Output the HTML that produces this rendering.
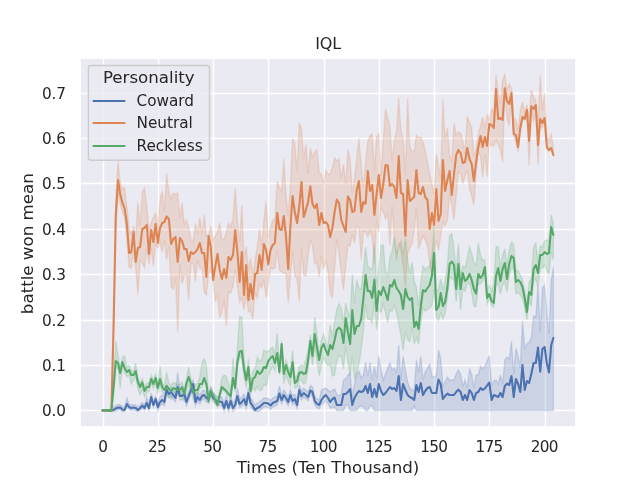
<!DOCTYPE html>
<html><head><meta charset="utf-8"><title>IQL</title>
<style>
html,body{margin:0;padding:0;background:#fff;}
body{width:640px;height:480px;overflow:hidden;}
svg{display:block;}
text{font-family:"DejaVu Sans","Liberation Sans",sans-serif;fill:#262626;}
.t11{font-size:15.28px;}
.tk{letter-spacing:-0.7px;}
.t12{font-size:16.67px;}
</style></head><body>
<svg width="640" height="480" viewBox="0 0 640 480">
<rect x="0" y="0" width="640" height="480" fill="#ffffff"/>
<rect x="80" y="57.6" width="496" height="369.59999999999997" fill="#eaeaf2"/>
<defs><clipPath id="ax"><rect x="80" y="57.6" width="496" height="369.6"/></clipPath></defs>
<g stroke="#ffffff" stroke-width="1.39" fill="none">
<line x1="103.50" y1="57.6" x2="103.50" y2="427.2"/>
<line x1="158.50" y1="57.6" x2="158.50" y2="427.2"/>
<line x1="213.50" y1="57.6" x2="213.50" y2="427.2"/>
<line x1="268.50" y1="57.6" x2="268.50" y2="427.2"/>
<line x1="324.50" y1="57.6" x2="324.50" y2="427.2"/>
<line x1="379.50" y1="57.6" x2="379.50" y2="427.2"/>
<line x1="434.50" y1="57.6" x2="434.50" y2="427.2"/>
<line x1="489.50" y1="57.6" x2="489.50" y2="427.2"/>
<line x1="545.50" y1="57.6" x2="545.50" y2="427.2"/>
<line x1="80" y1="410.50" x2="576" y2="410.50"/>
<line x1="80" y1="365.50" x2="576" y2="365.50"/>
<line x1="80" y1="320.50" x2="576" y2="320.50"/>
<line x1="80" y1="274.50" x2="576" y2="274.50"/>
<line x1="80" y1="229.50" x2="576" y2="229.50"/>
<line x1="80" y1="183.50" x2="576" y2="183.50"/>
<line x1="80" y1="138.50" x2="576" y2="138.50"/>
<line x1="80" y1="93.50" x2="576" y2="93.50"/>
</g>
<g clip-path="url(#ax)">
<path d="M102.5,410.4 L104.8,410.4 L107.0,410.4 L109.2,410.4 L111.4,410.4 L113.6,407.0 L115.8,405.4 L118.0,404.6 L120.2,404.6 L122.4,406.6 L124.6,407.0 L126.9,398.0 L129.1,404.0 L131.3,405.0 L133.5,404.6 L135.7,405.0 L137.9,407.0 L140.1,405.0 L142.3,402.6 L144.5,405.0 L146.8,397.0 L149.0,405.0 L151.2,393.0 L153.4,402.0 L155.6,396.0 L157.8,402.0 L160.0,397.0 L162.2,395.0 L164.4,397.0 L166.6,385.0 L168.9,389.0 L171.1,387.0 L173.3,390.0 L175.5,393.0 L177.7,372.0 L179.9,391.0 L182.1,391.0 L184.3,389.0 L186.5,397.0 L188.7,391.0 L191.0,385.0 L193.2,380.0 L195.4,397.0 L197.6,392.0 L199.8,395.0 L202.0,391.0 L204.2,390.0 L206.4,393.0 L208.6,394.0 L210.8,387.0 L213.1,393.0 L215.3,395.0 L217.5,397.0 L219.7,396.6 L221.9,397.0 L224.1,403.0 L226.3,396.0 L228.5,403.0 L230.7,396.0 L233.0,403.0 L235.2,400.0 L237.4,388.0 L239.6,399.0 L241.8,397.0 L244.0,394.0 L246.2,400.0 L248.4,387.0 L250.6,398.0 L252.8,401.0 L255.1,405.0 L257.3,403.0 L259.5,402.0 L261.7,400.0 L263.9,398.0 L266.1,398.0 L268.3,398.6 L270.5,400.6 L272.7,398.0 L274.9,397.0 L277.2,396.0 L279.4,386.0 L281.6,395.0 L283.8,390.0 L286.0,393.0 L288.2,397.0 L290.4,390.0 L292.6,396.0 L294.8,394.0 L297.1,400.0 L299.3,385.0 L301.5,391.0 L303.7,388.0 L305.9,390.0 L308.1,392.0 L310.3,385.6 L312.5,387.0 L314.7,396.0 L316.9,398.6 L319.2,400.0 L321.4,390.0 L323.6,389.0 L325.8,388.0 L328.0,390.0 L330.2,392.0 L332.4,390.0 L334.6,389.0 L336.8,394.0 L339.0,396.0 L341.3,394.0 L343.5,380.0 L345.7,379.0 L347.9,375.0 L350.1,373.0 L352.3,396.0 L354.5,384.0 L356.7,374.0 L358.9,371.0 L361.2,378.0 L363.4,375.0 L365.6,362.0 L367.8,376.0 L370.0,362.0 L372.2,380.0 L374.4,366.0 L376.6,378.0 L378.8,356.0 L381.0,370.0 L383.3,380.0 L385.5,374.0 L387.7,368.0 L389.9,363.0 L392.1,370.0 L394.3,368.0 L396.5,372.0 L398.7,345.0 L400.9,380.0 L403.1,356.0 L405.4,370.0 L407.6,382.0 L409.8,388.0 L412.0,390.0 L414.2,390.0 L416.4,360.0 L418.6,372.0 L420.8,356.0 L423.0,380.0 L425.2,372.0 L427.5,368.0 L429.7,364.0 L431.9,376.0 L434.1,377.0 L436.3,376.0 L438.5,350.0 L440.7,358.0 L442.9,386.0 L445.1,382.0 L447.4,377.0 L449.6,380.0 L451.8,380.0 L454.0,380.0 L456.2,374.0 L458.4,370.0 L460.6,374.0 L462.8,386.0 L465.0,380.0 L467.2,388.0 L469.5,369.0 L471.7,374.0 L473.9,388.0 L476.1,375.0 L478.3,375.0 L480.5,366.0 L482.7,369.0 L484.9,366.0 L487.1,361.0 L489.3,355.6 L491.6,386.0 L493.8,381.0 L496.0,380.0 L498.2,384.0 L500.4,375.0 L502.6,384.0 L504.8,360.0 L507.0,357.0 L509.2,359.0 L511.5,341.0 L513.7,374.0 L515.9,348.0 L518.1,356.0 L520.3,368.0 L522.5,321.0 L524.7,348.0 L526.9,344.0 L529.1,342.0 L531.3,338.0 L533.6,316.0 L535.8,317.0 L538.0,285.0 L540.2,332.0 L542.4,288.0 L544.6,285.0 L546.8,312.0 L549.0,334.0 L551.2,280.0 L553.4,267.0 L553.4,410.5 L551.2,410.5 L549.0,410.5 L546.8,410.5 L544.6,410.5 L542.4,410.5 L540.2,410.5 L538.0,410.5 L535.8,410.5 L533.6,410.5 L531.3,410.5 L529.1,410.5 L526.9,410.5 L524.7,410.5 L522.5,410.5 L520.3,410.5 L518.1,410.5 L515.9,410.5 L513.7,410.5 L511.5,410.5 L509.2,410.5 L507.0,410.5 L504.8,410.5 L502.6,410.5 L500.4,410.5 L498.2,410.5 L496.0,410.5 L493.8,410.5 L491.6,410.5 L489.3,410.5 L487.1,410.5 L484.9,410.5 L482.7,410.5 L480.5,410.5 L478.3,410.5 L476.1,410.5 L473.9,410.5 L471.7,410.5 L469.5,410.5 L467.2,410.5 L465.0,410.5 L462.8,410.5 L460.6,410.5 L458.4,410.5 L456.2,410.5 L454.0,410.5 L451.8,410.5 L449.6,410.5 L447.4,410.5 L445.1,410.5 L442.9,410.5 L440.7,410.5 L438.5,410.5 L436.3,410.5 L434.1,410.5 L431.9,410.5 L429.7,410.5 L427.5,410.5 L425.2,410.5 L423.0,410.5 L420.8,410.5 L418.6,410.5 L416.4,410.5 L414.2,406.0 L412.0,410.5 L409.8,410.5 L407.6,410.5 L405.4,410.5 L403.1,410.5 L400.9,410.5 L398.7,410.5 L396.5,410.5 L394.3,410.5 L392.1,410.5 L389.9,410.5 L387.7,410.5 L385.5,410.5 L383.3,410.5 L381.0,410.5 L378.8,410.5 L376.6,410.5 L374.4,410.5 L372.2,406.0 L370.0,406.0 L367.8,410.5 L365.6,410.5 L363.4,407.0 L361.2,406.0 L358.9,407.0 L356.7,410.5 L354.5,410.5 L352.3,410.5 L350.1,410.5 L347.9,405.0 L345.7,405.0 L343.5,410.5 L341.3,410.5 L339.0,410.5 L336.8,410.5 L334.6,407.0 L332.4,408.0 L330.2,408.0 L328.0,404.0 L325.8,401.0 L323.6,403.0 L321.4,404.0 L319.2,409.0 L316.9,407.6 L314.7,405.0 L312.5,396.0 L310.3,394.6 L308.1,401.0 L305.9,399.0 L303.7,397.0 L301.5,400.0 L299.3,394.0 L297.1,409.0 L294.8,403.0 L292.6,405.0 L290.4,399.0 L288.2,406.0 L286.0,402.0 L283.8,399.0 L281.6,404.0 L279.4,397.6 L277.2,405.0 L274.9,406.0 L272.7,407.0 L270.5,409.6 L268.3,407.6 L266.1,407.0 L263.9,407.0 L261.7,409.0 L259.5,411.0 L257.3,411.5 L255.1,411.5 L252.8,410.0 L250.6,407.0 L248.4,397.0 L246.2,409.0 L244.0,403.0 L241.8,406.0 L239.6,408.0 L237.4,400.0 L235.2,409.0 L233.0,411.5 L230.7,405.0 L228.5,411.5 L226.3,405.0 L224.1,411.5 L221.9,406.0 L219.7,405.6 L217.5,406.0 L215.3,404.0 L213.1,402.0 L210.8,396.0 L208.6,403.0 L206.4,402.0 L204.2,399.0 L202.0,400.0 L199.8,404.0 L197.6,401.0 L195.4,406.0 L193.2,388.0 L191.0,394.0 L188.7,400.0 L186.5,406.0 L184.3,398.0 L182.1,400.0 L179.9,400.0 L177.7,391.0 L175.5,402.0 L173.3,399.0 L171.1,396.0 L168.9,398.0 L166.6,394.0 L164.4,406.0 L162.2,404.0 L160.0,406.0 L157.8,411.0 L155.6,401.5 L153.4,407.5 L151.2,399.5 L149.0,410.5 L146.8,405.5 L144.5,410.5 L142.3,408.1 L140.1,410.5 L137.9,411.5 L135.7,410.5 L133.5,410.1 L131.3,410.5 L129.1,409.5 L126.9,406.5 L124.6,411.5 L122.4,411.5 L120.2,410.1 L118.0,410.1 L115.8,410.9 L113.6,411.5 L111.4,410.5 L109.2,410.5 L107.0,410.5 L104.8,410.5 L102.5,410.5Z" fill="#4c72b0" fill-opacity="0.2" stroke="#4c72b0" stroke-opacity="0.2" stroke-width="1.39" stroke-linejoin="miter"/>
<path d="M102.5,410.5 L104.8,410.5 L107.0,410.5 L109.2,410.5 L111.4,410.5 L113.6,318.0 L115.8,200.0 L118.0,161.0 L120.2,182.0 L122.4,189.0 L124.6,187.6 L126.9,206.0 L129.1,228.0 L131.3,234.0 L133.5,226.0 L135.7,236.0 L137.9,202.0 L140.1,226.0 L142.3,192.0 L144.5,188.0 L146.8,206.0 L149.0,232.0 L151.2,222.0 L153.4,218.0 L155.6,213.0 L157.8,228.0 L160.0,200.0 L162.2,191.0 L164.4,212.0 L166.6,173.0 L168.9,192.0 L171.1,199.0 L173.3,193.0 L175.5,194.0 L177.7,193.0 L179.9,218.0 L182.1,202.0 L184.3,224.0 L186.5,220.0 L188.7,228.0 L191.0,240.0 L193.2,242.0 L195.4,224.0 L197.6,234.0 L199.8,217.0 L202.0,234.0 L204.2,215.0 L206.4,236.0 L208.6,234.5 L210.8,226.0 L213.1,240.0 L215.3,236.0 L217.5,232.0 L219.7,223.0 L221.9,240.0 L224.1,239.0 L226.3,232.0 L228.5,223.0 L230.7,227.0 L233.0,218.0 L235.2,188.0 L237.4,220.0 L239.6,242.0 L241.8,205.0 L244.0,260.0 L246.2,246.0 L248.4,270.0 L250.6,258.0 L252.8,276.0 L255.1,260.0 L257.3,246.0 L259.5,229.0 L261.7,246.0 L263.9,220.0 L266.1,201.0 L268.3,238.0 L270.5,228.0 L272.7,220.0 L274.9,219.0 L277.2,181.0 L279.4,188.0 L281.6,191.0 L283.8,159.0 L286.0,194.0 L288.2,216.0 L290.4,186.0 L292.6,139.0 L294.8,143.0 L297.1,172.0 L299.3,123.0 L301.5,129.0 L303.7,159.0 L305.9,144.0 L308.1,174.0 L310.3,148.0 L312.5,157.0 L314.7,152.0 L316.9,149.6 L319.2,173.0 L321.4,174.0 L323.6,183.0 L325.8,170.0 L328.0,174.0 L330.2,174.0 L332.4,167.0 L334.6,158.0 L336.8,161.0 L339.0,159.0 L341.3,178.0 L343.5,164.0 L345.7,184.0 L347.9,150.0 L350.1,158.0 L352.3,193.0 L354.5,178.0 L356.7,158.0 L358.9,138.0 L361.2,166.0 L363.4,188.0 L365.6,162.0 L367.8,141.0 L370.0,136.0 L372.2,134.0 L374.4,171.0 L376.6,137.0 L378.8,134.0 L381.0,176.0 L383.3,140.0 L385.5,109.0 L387.7,118.0 L389.9,126.0 L392.1,161.0 L394.3,140.0 L396.5,132.0 L398.7,98.0 L400.9,130.0 L403.1,138.0 L405.4,175.0 L407.6,98.0 L409.8,146.0 L412.0,152.0 L414.2,151.0 L416.4,135.0 L418.6,138.0 L420.8,137.0 L423.0,142.0 L425.2,150.0 L427.5,162.0 L429.7,174.0 L431.9,184.0 L434.1,194.0 L436.3,154.0 L438.5,166.0 L440.7,178.0 L442.9,99.0 L445.1,140.0 L447.4,128.0 L449.6,156.0 L451.8,160.0 L454.0,123.0 L456.2,135.0 L458.4,132.0 L460.6,133.0 L462.8,140.0 L465.0,154.0 L467.2,116.0 L469.5,122.0 L471.7,128.0 L473.9,156.0 L476.1,150.0 L478.3,134.0 L480.5,126.0 L482.7,117.0 L484.9,128.0 L487.1,115.0 L489.3,120.0 L491.6,108.0 L493.8,116.0 L496.0,74.4 L498.2,92.0 L500.4,103.0 L502.6,80.0 L504.8,74.4 L507.0,90.0 L509.2,84.0 L511.5,88.0 L513.7,118.0 L515.9,120.0 L518.1,130.0 L520.3,110.0 L522.5,102.0 L524.7,112.0 L526.9,105.0 L529.1,118.0 L531.3,90.0 L533.6,97.0 L535.8,100.0 L538.0,124.0 L540.2,75.0 L542.4,110.0 L544.6,93.0 L546.8,136.0 L549.0,140.0 L551.2,134.0 L553.4,148.0 L553.4,156.5 L551.2,149.5 L549.0,151.5 L546.8,150.0 L544.6,120.0 L542.4,128.0 L540.2,126.0 L538.0,165.0 L535.8,108.0 L533.6,122.0 L531.3,108.0 L529.1,166.0 L526.9,112.0 L524.7,120.5 L522.5,118.5 L520.3,132.0 L518.1,152.0 L515.9,142.0 L513.7,136.0 L511.5,96.0 L509.2,126.0 L507.0,118.0 L504.8,92.0 L502.6,162.0 L500.4,150.0 L498.2,145.0 L496.0,140.0 L493.8,146.0 L491.6,146.0 L489.3,144.0 L487.1,177.0 L484.9,154.0 L482.7,177.0 L480.5,156.0 L478.3,152.0 L476.1,174.0 L473.9,205.0 L471.7,196.0 L469.5,188.0 L467.2,170.0 L465.0,176.0 L462.8,184.0 L460.6,174.0 L458.4,172.0 L456.2,196.0 L454.0,220.0 L451.8,206.0 L449.6,194.0 L447.4,220.0 L445.1,226.0 L442.9,222.0 L440.7,236.0 L438.5,250.0 L436.3,240.0 L434.1,250.0 L431.9,276.0 L429.7,264.0 L427.5,246.0 L425.2,240.0 L423.0,236.0 L420.8,242.0 L418.6,249.0 L416.4,208.0 L414.2,230.0 L412.0,244.0 L409.8,248.0 L407.6,254.0 L405.4,288.0 L403.1,265.0 L400.9,251.0 L398.7,242.0 L396.5,261.0 L394.3,238.0 L392.1,206.0 L389.9,246.0 L387.7,213.0 L385.5,219.0 L383.3,212.0 L381.0,208.0 L378.8,232.0 L376.6,220.0 L374.4,264.0 L372.2,237.0 L370.0,230.0 L367.8,237.0 L365.6,232.0 L363.4,232.0 L361.2,260.0 L358.9,228.0 L356.7,226.0 L354.5,243.5 L352.3,234.0 L350.1,246.0 L347.9,245.0 L345.7,266.0 L343.5,290.0 L341.3,273.0 L339.0,254.0 L336.8,239.0 L334.6,269.0 L332.4,298.0 L330.2,293.0 L328.0,272.0 L325.8,260.0 L323.6,269.0 L321.4,256.0 L319.2,277.0 L316.9,262.0 L314.7,264.0 L312.5,246.0 L310.3,240.0 L308.1,256.0 L305.9,276.0 L303.7,275.0 L301.5,248.0 L299.3,302.0 L297.1,279.0 L294.8,276.0 L292.6,252.0 L290.4,276.0 L288.2,303.0 L286.0,274.0 L283.8,273.0 L281.6,272.0 L279.4,270.0 L277.2,250.0 L274.9,268.0 L272.7,269.0 L270.5,268.0 L268.3,284.0 L266.1,298.0 L263.9,280.0 L261.7,288.0 L259.5,284.0 L257.3,298.0 L255.1,292.0 L252.8,319.0 L250.6,310.0 L248.4,312.0 L246.2,294.0 L244.0,310.0 L241.8,298.0 L239.6,302.0 L237.4,286.0 L235.2,270.0 L233.0,286.0 L230.7,293.0 L228.5,292.0 L226.3,326.0 L224.1,300.0 L221.9,312.0 L219.7,318.0 L217.5,296.0 L215.3,301.0 L213.1,282.0 L210.8,268.0 L208.6,274.0 L206.4,295.0 L204.2,292.0 L202.0,268.0 L199.8,268.0 L197.6,260.0 L195.4,282.0 L193.2,264.0 L191.0,263.0 L188.7,300.0 L186.5,274.0 L184.3,275.0 L182.1,284.0 L179.9,264.0 L177.7,332.0 L175.5,278.0 L173.3,289.0 L171.1,287.0 L168.9,246.0 L166.6,260.0 L164.4,240.0 L162.2,252.0 L160.0,242.0 L157.8,248.0 L155.6,244.0 L153.4,266.0 L151.2,248.0 L149.0,264.0 L146.8,248.0 L144.5,268.0 L142.3,263.0 L140.1,260.0 L137.9,295.0 L135.7,268.0 L133.5,252.0 L131.3,268.0 L129.1,267.0 L126.9,240.0 L124.6,218.0 L122.4,212.0 L120.2,204.0 L118.0,192.0 L115.8,232.0 L113.6,335.0 L111.4,410.5 L109.2,410.5 L107.0,410.5 L104.8,410.5 L102.5,410.5Z" fill="#dd8452" fill-opacity="0.2" stroke="#dd8452" stroke-opacity="0.2" stroke-width="1.39" stroke-linejoin="miter"/>
<path d="M102.5,410.4 L104.8,410.4 L107.0,410.4 L109.2,410.4 L111.4,410.4 L113.6,379.0 L115.8,341.0 L118.0,355.0 L120.2,369.0 L122.4,357.0 L124.6,356.0 L126.9,367.0 L129.1,365.3 L131.3,370.7 L133.5,371.0 L135.7,363.0 L137.9,378.0 L140.1,383.0 L142.3,378.4 L144.5,387.0 L146.8,383.0 L149.0,383.0 L151.2,375.0 L153.4,380.0 L155.6,374.0 L157.8,384.0 L160.0,366.0 L162.2,382.0 L164.4,386.0 L166.6,372.0 L168.9,383.0 L171.1,385.1 L173.3,382.2 L175.5,383.4 L177.7,384.5 L179.9,384.6 L182.1,381.8 L184.3,388.9 L186.5,378.0 L188.7,367.0 L191.0,379.0 L193.2,387.5 L195.4,384.0 L197.6,383.5 L199.8,377.0 L202.0,362.0 L204.2,358.5 L206.4,365.0 L208.6,393.0 L210.8,387.0 L213.1,391.8 L215.3,395.5 L217.5,400.2 L219.7,390.0 L221.9,378.0 L224.1,375.0 L226.3,376.0 L228.5,383.0 L230.7,391.0 L233.0,358.0 L235.2,380.0 L237.4,348.0 L239.6,316.6 L241.8,317.0 L244.0,357.0 L246.2,375.0 L248.4,359.0 L250.6,383.0 L252.8,371.0 L255.1,369.0 L257.3,357.0 L259.5,361.0 L261.7,360.0 L263.9,350.0 L266.1,352.0 L268.3,351.0 L270.5,348.7 L272.7,347.3 L274.9,355.0 L277.2,333.0 L279.4,367.0 L281.6,341.0 L283.8,369.0 L286.0,359.7 L288.2,366.3 L290.4,371.0 L292.6,350.0 L294.8,378.0 L297.1,375.2 L299.3,366.5 L301.5,364.8 L303.7,366.0 L305.9,360.0 L308.1,350.0 L310.3,335.0 L312.5,348.0 L314.7,317.0 L316.9,333.0 L319.2,354.0 L321.4,340.0 L323.6,334.0 L325.8,341.0 L328.0,347.0 L330.2,325.0 L332.4,337.0 L334.6,322.0 L336.8,309.0 L339.0,303.6 L341.3,308.0 L343.5,323.0 L345.7,303.0 L347.9,312.0 L350.1,316.0 L352.3,274.0 L354.5,304.0 L356.7,280.0 L358.9,288.0 L361.2,289.0 L363.4,269.0 L365.6,247.0 L367.8,266.0 L370.0,269.0 L372.2,269.0 L374.4,243.6 L376.6,284.0 L378.8,269.0 L381.0,245.0 L383.3,245.0 L385.5,271.0 L387.7,276.0 L389.9,257.0 L392.1,250.9 L394.3,237.0 L396.5,254.0 L398.7,247.0 L400.9,241.0 L403.1,254.0 L405.4,238.0 L407.6,258.5 L409.8,274.0 L412.0,262.0 L414.2,281.0 L416.4,287.1 L418.6,306.0 L420.8,282.5 L423.0,266.0 L425.2,269.3 L427.5,267.3 L429.7,266.0 L431.9,257.0 L434.1,226.0 L436.3,290.0 L438.5,290.0 L440.7,279.0 L442.9,289.0 L445.1,282.0 L447.4,264.0 L449.6,236.0 L451.8,233.6 L454.0,249.0 L456.2,271.0 L458.4,244.0 L460.6,275.5 L462.8,266.0 L465.0,267.3 L467.2,258.7 L469.5,247.0 L471.7,253.5 L473.9,263.0 L476.1,265.1 L478.3,243.0 L480.5,255.0 L482.7,260.0 L484.9,260.0 L487.1,290.0 L489.3,285.0 L491.6,291.0 L493.8,283.5 L496.0,247.0 L498.2,246.5 L500.4,267.0 L502.6,255.0 L504.8,249.0 L507.0,265.0 L509.2,250.0 L511.5,242.0 L513.7,244.0 L515.9,270.3 L518.1,270.7 L520.3,275.0 L522.5,279.7 L524.7,290.3 L526.9,304.0 L529.1,282.0 L531.3,279.0 L533.6,247.0 L535.8,243.0 L538.0,263.0 L540.2,246.0 L542.4,247.0 L544.6,241.0 L546.8,240.0 L549.0,240.0 L551.2,215.0 L553.4,223.0 L553.4,260.0 L551.2,252.0 L549.0,274.0 L546.8,271.0 L544.6,265.0 L542.4,268.2 L540.2,268.5 L538.0,286.8 L535.8,279.0 L533.6,281.5 L531.3,306.0 L529.1,301.5 L526.9,320.0 L524.7,307.7 L522.5,298.3 L520.3,295.0 L518.1,292.3 L515.9,293.7 L513.7,269.0 L511.5,267.7 L509.2,276.3 L507.0,292.0 L504.8,282.0 L502.6,285.0 L500.4,294.0 L498.2,284.0 L496.0,286.0 L493.8,307.0 L491.6,305.7 L489.3,299.3 L487.1,304.0 L484.9,273.0 L482.7,281.0 L480.5,284.0 L478.3,283.7 L476.1,306.9 L473.9,306.0 L471.7,293.0 L469.5,283.0 L467.2,284.0 L465.0,291.3 L462.8,288.7 L460.6,310.0 L458.4,281.0 L456.2,302.0 L454.0,280.0 L451.8,278.6 L449.6,277.5 L447.4,298.0 L445.1,313.5 L442.9,319.0 L440.7,313.0 L438.5,320.5 L436.3,317.0 L434.1,289.0 L431.9,305.5 L429.7,308.0 L427.5,309.3 L425.2,311.3 L423.0,308.0 L420.8,322.5 L418.6,344.0 L416.4,337.6 L414.2,344.0 L412.0,327.5 L409.8,342.0 L407.6,339.5 L405.4,332.0 L403.1,350.5 L400.9,335.0 L398.7,323.5 L396.5,313.0 L394.3,305.0 L392.1,311.4 L389.9,310.0 L387.7,322.3 L385.5,312.7 L383.3,304.0 L381.0,312.7 L378.8,309.3 L376.6,330.0 L374.4,301.6 L372.2,323.0 L370.0,319.0 L367.8,319.5 L365.6,304.0 L363.4,330.0 L361.2,350.0 L358.9,364.5 L356.7,372.0 L354.5,380.0 L352.3,356.0 L350.1,376.0 L347.9,362.0 L345.7,346.0 L343.5,369.0 L341.3,357.0 L339.0,355.6 L336.8,361.5 L334.6,375.0 L332.4,376.0 L330.2,364.0 L328.0,366.0 L325.8,362.5 L323.6,358.0 L321.4,365.0 L319.2,376.0 L316.9,361.0 L314.7,346.0 L312.5,366.0 L310.3,349.0 L308.1,368.7 L305.9,382.3 L303.7,384.0 L301.5,380.8 L299.3,380.5 L297.1,387.2 L294.8,388.0 L292.6,369.0 L290.4,386.0 L288.2,381.3 L286.0,374.7 L283.8,384.0 L281.6,350.5 L279.4,375.0 L277.2,358.3 L274.9,370.7 L272.7,366.0 L270.5,370.7 L268.3,376.3 L266.1,386.0 L263.9,385.0 L261.7,390.0 L259.5,390.7 L257.3,386.3 L255.1,391.0 L252.8,387.5 L250.6,394.0 L248.4,372.5 L246.2,388.0 L244.0,376.2 L241.8,357.4 L239.6,357.2 L237.4,366.8 L235.2,392.0 L233.0,381.5 L230.7,399.0 L228.5,396.8 L226.3,393.7 L224.1,391.5 L221.9,389.3 L219.7,397.2 L217.5,407.0 L215.3,402.2 L213.1,398.5 L210.8,393.8 L208.6,404.0 L206.4,387.2 L204.2,381.5 L202.0,387.8 L199.8,388.0 L197.6,395.0 L195.4,396.0 L193.2,400.0 L191.0,391.2 L188.7,384.5 L186.5,390.8 L184.3,402.0 L182.1,394.0 L179.9,396.0 L177.7,395.0 L175.5,395.3 L173.3,395.7 L171.1,400.0 L168.9,396.7 L166.6,392.3 L164.4,395.0 L162.2,392.3 L160.0,384.7 L157.8,394.0 L155.6,383.3 L153.4,388.7 L151.2,383.0 L149.0,391.7 L146.8,392.3 L144.5,397.0 L142.3,389.4 L140.1,395.0 L137.9,389.0 L135.7,377.0 L133.5,380.0 L131.3,384.0 L129.1,375.0 L126.9,377.0 L124.6,373.0 L122.4,367.0 L120.2,388.0 L118.0,369.0 L115.8,367.0 L113.6,395.0 L111.4,410.4 L109.2,410.4 L107.0,410.4 L104.8,410.4 L102.5,410.4Z" fill="#55a868" fill-opacity="0.2" stroke="#55a868" stroke-opacity="0.2" stroke-width="1.39" stroke-linejoin="miter"/>
<path d="M102.5,410.4 L104.8,410.4 L107.0,410.4 L109.2,410.4 L111.4,410.4 L113.6,410.0 L115.8,408.4 L118.0,407.6 L120.2,407.6 L122.4,409.6 L124.6,410.0 L126.9,404.0 L129.1,407.0 L131.3,408.0 L133.5,407.6 L135.7,408.0 L137.9,410.0 L140.1,408.0 L142.3,405.6 L144.5,408.0 L146.8,403.0 L149.0,408.0 L151.2,397.0 L153.4,405.0 L155.6,399.0 L157.8,407.0 L160.0,402.0 L162.2,400.0 L164.4,402.0 L166.6,390.0 L168.9,394.0 L171.1,392.0 L173.3,395.0 L175.5,398.0 L177.7,387.0 L179.9,396.0 L182.1,396.0 L184.3,394.0 L186.5,402.0 L188.7,396.0 L191.0,390.0 L193.2,384.0 L195.4,402.0 L197.6,397.0 L199.8,400.0 L202.0,396.0 L204.2,395.0 L206.4,398.0 L208.6,399.0 L210.8,392.0 L213.1,398.0 L215.3,400.0 L217.5,402.0 L219.7,401.6 L221.9,402.0 L224.1,408.0 L226.3,401.0 L228.5,408.0 L230.7,401.0 L233.0,408.0 L235.2,405.0 L237.4,396.0 L239.6,404.0 L241.8,402.0 L244.0,399.0 L246.2,405.0 L248.4,393.0 L250.6,403.0 L252.8,406.0 L255.1,410.0 L257.3,408.0 L259.5,407.0 L261.7,405.0 L263.9,403.0 L266.1,403.0 L268.3,403.6 L270.5,405.6 L272.7,403.0 L274.9,402.0 L277.2,401.0 L279.4,393.6 L281.6,400.0 L283.8,395.0 L286.0,398.0 L288.2,402.0 L290.4,395.0 L292.6,401.0 L294.8,399.0 L297.1,405.0 L299.3,390.0 L301.5,396.0 L303.7,393.0 L305.9,395.0 L308.1,397.0 L310.3,390.6 L312.5,392.0 L314.7,401.0 L316.9,403.6 L319.2,405.0 L321.4,400.0 L323.6,397.0 L325.8,395.0 L328.0,398.0 L330.2,402.0 L332.4,399.0 L334.6,397.6 L336.8,405.0 L339.0,405.0 L341.3,405.0 L343.5,394.0 L345.7,394.0 L347.9,392.0 L350.1,389.0 L352.3,405.0 L354.5,398.0 L356.7,394.0 L358.9,391.0 L361.2,392.0 L363.4,391.0 L365.6,386.0 L367.8,393.0 L370.0,384.0 L372.2,397.0 L374.4,389.0 L376.6,397.0 L378.8,384.0 L381.0,391.0 L383.3,395.0 L385.5,393.0 L387.7,390.0 L389.9,387.0 L392.1,389.0 L394.3,388.0 L396.5,391.0 L398.7,376.0 L400.9,400.0 L403.1,384.0 L405.4,390.0 L407.6,395.0 L409.8,397.0 L412.0,398.0 L414.2,400.0 L416.4,385.0 L418.6,392.0 L420.8,383.0 L423.0,395.0 L425.2,391.0 L427.5,388.0 L429.7,387.0 L431.9,393.0 L434.1,393.0 L436.3,393.0 L438.5,379.6 L440.7,384.0 L442.9,399.0 L445.1,396.0 L447.4,393.6 L449.6,395.0 L451.8,395.0 L454.0,395.0 L456.2,392.0 L458.4,389.6 L460.6,392.0 L462.8,400.0 L465.0,395.0 L467.2,400.0 L469.5,390.0 L471.7,393.0 L473.9,400.0 L476.1,393.0 L478.3,392.0 L480.5,388.0 L482.7,390.0 L484.9,388.4 L487.1,385.6 L489.3,382.6 L491.6,400.0 L493.8,395.0 L496.0,396.0 L498.2,397.0 L500.4,393.0 L502.6,397.0 L504.8,386.0 L507.0,383.6 L509.2,385.0 L511.5,376.0 L513.7,397.0 L515.9,379.0 L518.1,384.0 L520.3,392.0 L522.5,365.0 L524.7,390.0 L526.9,381.0 L529.1,383.0 L531.3,374.0 L533.6,363.0 L535.8,363.0 L538.0,347.6 L540.2,371.6 L542.4,349.0 L544.6,347.0 L546.8,363.0 L549.0,372.4 L551.2,345.0 L553.4,338.0" fill="none" stroke="#4c72b0" stroke-width="2.08" stroke-linejoin="round" stroke-linecap="round"/>
<path d="M102.5,410.5 L104.8,410.5 L107.0,410.5 L109.2,410.5 L111.4,410.5 L113.6,325.0 L115.8,215.0 L118.0,180.0 L120.2,194.0 L122.4,203.0 L124.6,208.4 L126.9,224.0 L129.1,253.0 L131.3,252.0 L133.5,232.0 L135.7,262.0 L137.9,248.0 L140.1,247.0 L142.3,229.0 L144.5,228.0 L146.8,225.0 L149.0,254.0 L151.2,230.0 L153.4,242.0 L155.6,224.0 L157.8,243.0 L160.0,228.0 L162.2,223.0 L164.4,222.0 L166.6,216.4 L168.9,219.0 L171.1,244.0 L173.3,239.0 L175.5,237.0 L177.7,262.0 L179.9,238.0 L182.1,241.0 L184.3,249.0 L186.5,249.0 L188.7,261.0 L191.0,252.0 L193.2,254.0 L195.4,252.0 L197.6,249.0 L199.8,243.0 L202.0,253.0 L204.2,253.0 L206.4,277.0 L208.6,236.0 L210.8,247.0 L213.1,280.0 L215.3,266.0 L217.5,254.0 L219.7,270.0 L221.9,279.0 L224.1,269.0 L226.3,278.0 L228.5,257.0 L230.7,260.0 L233.0,255.0 L235.2,230.0 L237.4,252.0 L239.6,282.0 L241.8,252.0 L244.0,295.0 L246.2,265.0 L248.4,300.0 L250.6,284.0 L252.8,299.0 L255.1,274.0 L257.3,273.0 L259.5,255.0 L261.7,270.0 L263.9,244.0 L266.1,250.0 L268.3,264.4 L270.5,250.0 L272.7,245.0 L274.9,243.0 L277.2,213.0 L279.4,229.0 L281.6,230.0 L283.8,216.0 L286.0,236.0 L288.2,269.0 L290.4,226.0 L292.6,196.0 L294.8,212.0 L297.1,223.0 L299.3,206.0 L301.5,182.0 L303.7,217.0 L305.9,210.0 L308.1,202.0 L310.3,186.4 L312.5,204.0 L314.7,208.0 L316.9,204.0 L319.2,225.0 L321.4,213.0 L323.6,223.0 L325.8,222.0 L328.0,225.0 L330.2,237.0 L332.4,228.0 L334.6,212.0 L336.8,199.6 L339.0,203.0 L341.3,220.0 L343.5,226.0 L345.7,232.0 L347.9,196.4 L350.1,200.0 L352.3,212.0 L354.5,211.0 L356.7,190.0 L358.9,181.0 L361.2,212.0 L363.4,202.0 L365.6,203.6 L367.8,171.0 L370.0,191.0 L372.2,185.0 L374.4,215.0 L376.6,194.0 L378.8,175.0 L381.0,198.0 L383.3,184.0 L385.5,165.0 L387.7,165.6 L389.9,186.0 L392.1,184.0 L394.3,187.0 L396.5,198.0 L398.7,156.0 L400.9,193.0 L403.1,194.0 L405.4,236.0 L407.6,180.0 L409.8,201.0 L412.0,199.0 L414.2,197.0 L416.4,170.0 L418.6,193.0 L420.8,194.0 L423.0,187.0 L425.2,197.0 L427.5,200.0 L429.7,229.0 L431.9,213.0 L434.1,225.0 L436.3,189.0 L438.5,221.0 L440.7,214.0 L442.9,160.0 L445.1,191.0 L447.4,180.0 L449.6,171.0 L451.8,195.0 L454.0,174.0 L456.2,155.0 L458.4,150.0 L460.6,153.0 L462.8,163.0 L465.0,162.0 L467.2,148.0 L469.5,159.0 L471.7,164.0 L473.9,181.0 L476.1,162.0 L478.3,147.0 L480.5,136.0 L482.7,147.0 L484.9,137.0 L487.1,146.0 L489.3,124.0 L491.6,125.0 L493.8,128.0 L496.0,89.0 L498.2,119.0 L500.4,118.0 L502.6,120.0 L504.8,88.4 L507.0,101.0 L509.2,104.0 L511.5,93.0 L513.7,134.0 L515.9,135.0 L518.1,147.0 L520.3,128.0 L522.5,117.0 L524.7,119.0 L526.9,110.0 L529.1,141.0 L531.3,106.4 L533.6,109.0 L535.8,105.0 L538.0,145.0 L540.2,119.0 L542.4,123.0 L544.6,118.0 L546.8,147.0 L549.0,150.0 L551.2,148.0 L553.4,155.0" fill="none" stroke="#dd8452" stroke-width="2.08" stroke-linejoin="round" stroke-linecap="round"/>
<path d="M102.5,410.4 L104.8,410.4 L107.0,410.4 L109.2,410.4 L111.4,410.4 L113.6,387.0 L115.8,361.0 L118.0,363.0 L120.2,373.0 L122.4,362.0 L124.6,368.0 L126.9,372.0 L129.1,370.0 L131.3,375.0 L133.5,375.0 L135.7,371.0 L137.9,382.0 L140.1,387.0 L142.3,382.4 L144.5,391.0 L146.8,387.0 L149.0,387.0 L151.2,379.0 L153.4,384.0 L155.6,378.0 L157.8,388.0 L160.0,379.0 L162.2,387.0 L164.4,390.0 L166.6,386.0 L168.9,389.0 L171.1,391.0 L173.3,388.0 L175.5,389.0 L177.7,390.0 L179.9,390.0 L182.1,387.0 L184.3,394.0 L186.5,383.0 L188.7,377.0 L191.0,384.0 L193.2,393.0 L195.4,390.0 L197.6,390.0 L199.8,384.0 L202.0,384.0 L204.2,378.0 L206.4,384.0 L208.6,401.0 L210.8,391.0 L213.1,396.0 L215.3,400.0 L217.5,405.0 L219.7,395.0 L221.9,387.0 L224.1,389.0 L226.3,391.0 L228.5,394.0 L230.7,396.0 L233.0,378.0 L235.2,388.0 L237.4,362.0 L239.6,351.6 L241.8,351.0 L244.0,369.0 L246.2,380.0 L248.4,367.0 L250.6,391.0 L252.8,379.0 L255.1,377.0 L257.3,371.0 L259.5,374.0 L261.7,372.0 L263.9,367.0 L266.1,368.0 L268.3,361.0 L270.5,358.0 L272.7,356.0 L274.9,363.0 L277.2,353.0 L279.4,372.0 L281.6,344.0 L283.8,374.0 L286.0,365.0 L288.2,372.0 L290.4,377.0 L292.6,362.0 L294.8,383.0 L297.1,381.0 L299.3,373.0 L301.5,372.0 L303.7,374.0 L305.9,373.0 L308.1,360.0 L310.3,341.0 L312.5,356.0 L314.7,334.0 L316.9,347.0 L319.2,360.0 L321.4,348.0 L323.6,344.0 L325.8,350.0 L328.0,355.0 L330.2,345.0 L332.4,349.0 L334.6,340.0 L336.8,330.0 L339.0,327.6 L341.3,330.0 L343.5,343.0 L345.7,318.0 L347.9,332.0 L350.1,344.0 L352.3,310.0 L354.5,334.0 L356.7,326.0 L358.9,326.0 L361.2,319.0 L363.4,298.0 L365.6,275.0 L367.8,291.0 L370.0,291.0 L372.2,298.0 L374.4,279.6 L376.6,311.0 L378.8,291.0 L381.0,295.0 L383.3,287.0 L385.5,293.0 L387.7,300.0 L389.9,285.0 L392.1,286.4 L394.3,280.0 L396.5,288.0 L398.7,291.0 L400.9,295.0 L403.1,309.0 L405.4,289.0 L407.6,297.0 L409.8,300.0 L412.0,298.0 L414.2,327.0 L416.4,321.6 L418.6,329.0 L420.8,306.0 L423.0,290.0 L425.2,291.6 L427.5,288.0 L429.7,285.0 L431.9,276.0 L434.1,253.0 L436.3,310.0 L438.5,307.0 L440.7,293.0 L442.9,306.0 L445.1,302.0 L447.4,288.0 L449.6,264.0 L451.8,261.6 L454.0,265.0 L456.2,289.0 L458.4,264.0 L460.6,289.0 L462.8,273.0 L465.0,281.0 L467.2,279.0 L469.5,274.0 L471.7,280.0 L473.9,289.0 L476.1,293.6 L478.3,274.0 L480.5,278.0 L482.7,275.0 L484.9,267.0 L487.1,298.0 L489.3,294.0 L491.6,301.0 L493.8,303.0 L496.0,276.0 L498.2,268.0 L500.4,281.0 L502.6,269.0 L504.8,263.0 L507.0,279.0 L509.2,264.0 L511.5,256.0 L513.7,258.0 L515.9,282.0 L518.1,280.0 L520.3,282.0 L522.5,287.0 L524.7,298.0 L526.9,312.0 L529.1,292.0 L531.3,295.0 L533.6,269.0 L535.8,265.0 L538.0,273.0 L540.2,255.0 L542.4,255.0 L544.6,252.0 L546.8,254.0 L549.0,253.0 L551.2,227.0 L553.4,235.0" fill="none" stroke="#55a868" stroke-width="2.08" stroke-linejoin="round" stroke-linecap="round"/>
</g>
<rect x="80" y="58" width="496" height="369" fill="none" stroke="#ffffff" stroke-width="1.74"/>
<g class="t11" text-anchor="middle">
<text class="t11 tk" x="102.7" y="451.6">0</text>
<text class="t11 tk" x="156.9" y="451.6">25</text>
<text class="t11 tk" x="212.2" y="451.6">50</text>
<text class="t11 tk" x="267.4" y="451.6">75</text>
<text class="t11 tk" x="323.2" y="451.6">100</text>
<text class="t11 tk" x="378.4" y="451.6">125</text>
<text class="t11 tk" x="433.7" y="451.6">150</text>
<text class="t11 tk" x="488.9" y="451.6">175</text>
<text class="t11 tk" x="544.2" y="451.6">200</text>
</g>
<g text-anchor="end">
<text class="t11" style="letter-spacing:-0.15px" x="65.9" y="416.1">0.0</text>
<text class="t11" style="letter-spacing:-0.15px" x="65.9" y="371.1">0.1</text>
<text class="t11" style="letter-spacing:-0.15px" x="65.9" y="326.1">0.2</text>
<text class="t11" style="letter-spacing:-0.15px" x="65.9" y="280.1">0.3</text>
<text class="t11" style="letter-spacing:-0.15px" x="65.9" y="235.1">0.4</text>
<text class="t11" style="letter-spacing:-0.15px" x="65.9" y="189.1">0.5</text>
<text class="t11" style="letter-spacing:-0.15px" x="65.9" y="144.1">0.6</text>
<text class="t11" style="letter-spacing:-0.15px" x="65.9" y="99.1">0.7</text>
</g>
<text class="t12" x="328" y="473" text-anchor="middle">Times (Ten Thousand)</text>
<text class="t12" transform="translate(33.4,243.7) rotate(-90)" text-anchor="middle">battle won mean</text>
<text x="328.1" y="48.7" text-anchor="middle" style="font-size:16px;letter-spacing:-0.2px">IQL</text>
<rect x="88.4" y="65.5" width="121.1" height="94.8" rx="3" ry="3" fill="#eaeaf2" fill-opacity="0.8" stroke="#cccccc" stroke-width="1.39"/>
<text class="t12" x="148.8" y="83" text-anchor="middle">Personality</text>
<line x1="93.7" y1="101.00" x2="124.3" y2="101.00" stroke="#4c72b0" stroke-width="2.08" stroke-linecap="square"/>
<text class="t11" x="136.5" y="105.60">Coward</text>
<line x1="93.7" y1="123.00" x2="124.3" y2="123.00" stroke="#dd8452" stroke-width="2.08" stroke-linecap="square"/>
<text class="t11" x="136.5" y="128.10">Neutral</text>
<line x1="93.7" y1="146.00" x2="124.3" y2="146.00" stroke="#55a868" stroke-width="2.08" stroke-linecap="square"/>
<text class="t11" x="136.5" y="150.60">Reckless</text>
</svg>
</body></html>
